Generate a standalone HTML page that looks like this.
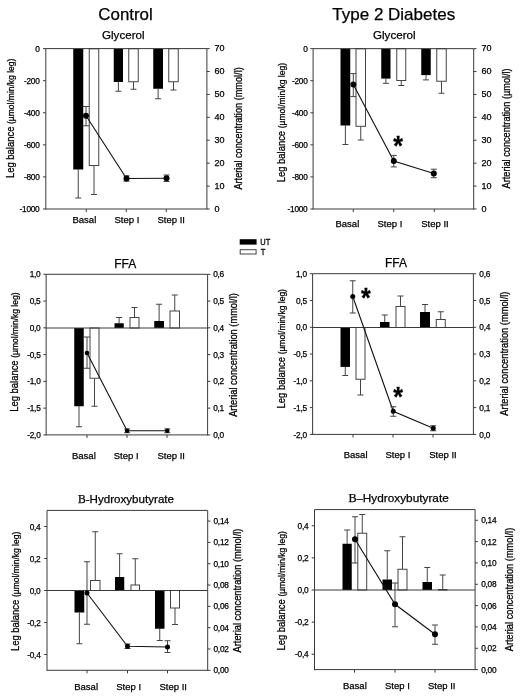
<!DOCTYPE html>
<html><head><meta charset="utf-8"><title>Leg balance figure</title>
<style>html,body{margin:0;padding:0;background:#fff;}svg{display:block;}text{fill:#000;stroke:#000;stroke-width:0.25px;}</style>
</head><body>
<svg width="520" height="696" viewBox="0 0 520 696">
<rect width="520" height="696" fill="#fff"/>
<line x1="78.25" y1="169.50" x2="78.25" y2="198.00" stroke="#444" stroke-width="1"/>
<line x1="75.25" y1="198.00" x2="81.25" y2="198.00" stroke="#444" stroke-width="1"/>
<rect x="73.25" y="48.75" width="10.00" height="120.75" fill="#000"/>
<line x1="94.00" y1="165.50" x2="94.00" y2="194.50" stroke="#444" stroke-width="1"/>
<line x1="91.00" y1="194.50" x2="97.00" y2="194.50" stroke="#444" stroke-width="1"/>
<rect x="89.25" y="48.75" width="9.50" height="116.75" fill="#fff" stroke="#444" stroke-width="1"/>
<line x1="118.38" y1="82.00" x2="118.38" y2="91.25" stroke="#444" stroke-width="1"/>
<line x1="115.38" y1="91.25" x2="121.38" y2="91.25" stroke="#444" stroke-width="1"/>
<rect x="113.75" y="48.75" width="9.25" height="33.25" fill="#000"/>
<line x1="133.50" y1="81.75" x2="133.50" y2="89.25" stroke="#444" stroke-width="1"/>
<line x1="130.50" y1="89.25" x2="136.50" y2="89.25" stroke="#444" stroke-width="1"/>
<rect x="128.75" y="48.75" width="9.50" height="33.00" fill="#fff" stroke="#444" stroke-width="1"/>
<line x1="158.12" y1="88.75" x2="158.12" y2="98.75" stroke="#444" stroke-width="1"/>
<line x1="155.12" y1="98.75" x2="161.12" y2="98.75" stroke="#444" stroke-width="1"/>
<rect x="153.25" y="48.75" width="9.75" height="40.00" fill="#000"/>
<line x1="173.50" y1="81.75" x2="173.50" y2="90.00" stroke="#444" stroke-width="1"/>
<line x1="170.50" y1="90.00" x2="176.50" y2="90.00" stroke="#444" stroke-width="1"/>
<rect x="168.75" y="48.75" width="9.50" height="33.00" fill="#fff" stroke="#444" stroke-width="1"/>
<polyline points="86.00,115.80 126.50,178.50 166.50,178.20" fill="none" stroke="#111" stroke-width="1.1"/>
<line x1="86.00" y1="106.50" x2="86.00" y2="125.80" stroke="#444" stroke-width="1"/>
<line x1="83.00" y1="106.50" x2="89.00" y2="106.50" stroke="#444" stroke-width="1"/>
<line x1="83.00" y1="125.80" x2="89.00" y2="125.80" stroke="#444" stroke-width="1"/>
<circle cx="86.00" cy="115.80" r="3" fill="#000"/>
<line x1="126.50" y1="175.80" x2="126.50" y2="181.20" stroke="#444" stroke-width="1"/>
<line x1="123.50" y1="175.80" x2="129.50" y2="175.80" stroke="#444" stroke-width="1"/>
<line x1="123.50" y1="181.20" x2="129.50" y2="181.20" stroke="#444" stroke-width="1"/>
<circle cx="126.50" cy="178.50" r="3" fill="#000"/>
<line x1="166.50" y1="175.00" x2="166.50" y2="181.50" stroke="#444" stroke-width="1"/>
<line x1="163.50" y1="175.00" x2="169.50" y2="175.00" stroke="#444" stroke-width="1"/>
<line x1="163.50" y1="181.50" x2="169.50" y2="181.50" stroke="#444" stroke-width="1"/>
<circle cx="166.50" cy="178.20" r="3" fill="#000"/>
<line x1="45.80" y1="48.60" x2="45.80" y2="209.50" stroke="#3a3a3a" stroke-width="1"/>
<line x1="206.90" y1="48.60" x2="206.90" y2="209.50" stroke="#3a3a3a" stroke-width="1"/>
<line x1="45.80" y1="209.00" x2="206.90" y2="209.00" stroke="#3a3a3a" stroke-width="1"/>
<line x1="45.80" y1="48.60" x2="206.90" y2="48.60" stroke="#3a3a3a" stroke-width="1"/>
<line x1="43.00" y1="48.60" x2="45.80" y2="48.60" stroke="#3a3a3a" stroke-width="1"/>
<text x="39.50" y="51.70" font-size="8.3" text-anchor="end" font-family='"Liberation Sans", Arial, sans-serif' letter-spacing="-0.25">0</text>
<line x1="43.00" y1="80.68" x2="45.80" y2="80.68" stroke="#3a3a3a" stroke-width="1"/>
<text x="39.50" y="83.78" font-size="8.3" text-anchor="end" font-family='"Liberation Sans", Arial, sans-serif' letter-spacing="-0.25">-200</text>
<line x1="43.00" y1="112.76" x2="45.80" y2="112.76" stroke="#3a3a3a" stroke-width="1"/>
<text x="39.50" y="115.86" font-size="8.3" text-anchor="end" font-family='"Liberation Sans", Arial, sans-serif' letter-spacing="-0.25">-400</text>
<line x1="43.00" y1="144.84" x2="45.80" y2="144.84" stroke="#3a3a3a" stroke-width="1"/>
<text x="39.50" y="147.94" font-size="8.3" text-anchor="end" font-family='"Liberation Sans", Arial, sans-serif' letter-spacing="-0.25">-600</text>
<line x1="43.00" y1="176.92" x2="45.80" y2="176.92" stroke="#3a3a3a" stroke-width="1"/>
<text x="39.50" y="180.02" font-size="8.3" text-anchor="end" font-family='"Liberation Sans", Arial, sans-serif' letter-spacing="-0.25">-800</text>
<line x1="43.00" y1="209.00" x2="45.80" y2="209.00" stroke="#3a3a3a" stroke-width="1"/>
<text x="39.50" y="212.10" font-size="8.3" text-anchor="end" font-family='"Liberation Sans", Arial, sans-serif' letter-spacing="-0.25">-1000</text>
<line x1="206.90" y1="209.00" x2="209.70" y2="209.00" stroke="#3a3a3a" stroke-width="1"/>
<text x="214.50" y="211.50" font-size="9.0" text-anchor="start" font-family='"Liberation Sans", Arial, sans-serif' letter-spacing="0">0</text>
<line x1="206.90" y1="186.09" x2="209.70" y2="186.09" stroke="#3a3a3a" stroke-width="1"/>
<text x="214.50" y="188.59" font-size="9.0" text-anchor="start" font-family='"Liberation Sans", Arial, sans-serif' letter-spacing="0">10</text>
<line x1="206.90" y1="163.17" x2="209.70" y2="163.17" stroke="#3a3a3a" stroke-width="1"/>
<text x="214.50" y="165.67" font-size="9.0" text-anchor="start" font-family='"Liberation Sans", Arial, sans-serif' letter-spacing="0">20</text>
<line x1="206.90" y1="140.26" x2="209.70" y2="140.26" stroke="#3a3a3a" stroke-width="1"/>
<text x="214.50" y="142.76" font-size="9.0" text-anchor="start" font-family='"Liberation Sans", Arial, sans-serif' letter-spacing="0">30</text>
<line x1="206.90" y1="117.34" x2="209.70" y2="117.34" stroke="#3a3a3a" stroke-width="1"/>
<text x="214.50" y="119.84" font-size="9.0" text-anchor="start" font-family='"Liberation Sans", Arial, sans-serif' letter-spacing="0">40</text>
<line x1="206.90" y1="94.43" x2="209.70" y2="94.43" stroke="#3a3a3a" stroke-width="1"/>
<text x="214.50" y="96.93" font-size="9.0" text-anchor="start" font-family='"Liberation Sans", Arial, sans-serif' letter-spacing="0">50</text>
<line x1="206.90" y1="71.51" x2="209.70" y2="71.51" stroke="#3a3a3a" stroke-width="1"/>
<text x="214.50" y="74.01" font-size="9.0" text-anchor="start" font-family='"Liberation Sans", Arial, sans-serif' letter-spacing="0">60</text>
<line x1="206.90" y1="48.60" x2="209.70" y2="48.60" stroke="#3a3a3a" stroke-width="1"/>
<text x="214.50" y="51.10" font-size="9.0" text-anchor="start" font-family='"Liberation Sans", Arial, sans-serif' letter-spacing="0">70</text>
<line x1="86.25" y1="209.00" x2="86.25" y2="212.00" stroke="#3a3a3a" stroke-width="1"/>
<line x1="126.25" y1="209.00" x2="126.25" y2="212.00" stroke="#3a3a3a" stroke-width="1"/>
<line x1="166.25" y1="209.00" x2="166.25" y2="212.00" stroke="#3a3a3a" stroke-width="1"/>
<text x="72.50" y="223.35" font-size="9.5" text-anchor="start" font-family='"Liberation Sans", Arial, sans-serif'>Basal</text>
<text x="114.50" y="223.35" font-size="9.5" text-anchor="start" font-family='"Liberation Sans", Arial, sans-serif'>Step I</text>
<text x="157.50" y="223.35" font-size="9.5" text-anchor="start" font-family='"Liberation Sans", Arial, sans-serif'>Step II</text>
<text x="102.00" y="38.80" font-size="11.6" text-anchor="start" font-family='"Liberation Sans", Arial, sans-serif'>Glycerol</text>
<text x="0.00" y="0.00" font-size="9.45" text-anchor="start" font-family='"Liberation Sans", Arial, sans-serif' transform="translate(13.80 178.00) rotate(-90) scale(1 1.12)">Leg balance <tspan font-size="8.5">(µmol/min/kg leg)</tspan></text>
<text x="0.00" y="0.00" font-size="9.18" text-anchor="start" font-family='"Liberation Sans", Arial, sans-serif' transform="translate(242.20 189.55) rotate(-90) scale(1 1.12)">Arterial concentration (mmol/l)</text>
<line x1="345.38" y1="125.50" x2="345.38" y2="144.50" stroke="#444" stroke-width="1"/>
<line x1="342.38" y1="144.50" x2="348.38" y2="144.50" stroke="#444" stroke-width="1"/>
<rect x="340.50" y="48.75" width="9.75" height="76.75" fill="#000"/>
<line x1="360.75" y1="126.30" x2="360.75" y2="140.00" stroke="#444" stroke-width="1"/>
<line x1="357.75" y1="140.00" x2="363.75" y2="140.00" stroke="#444" stroke-width="1"/>
<rect x="356.00" y="48.75" width="9.50" height="77.55" fill="#fff" stroke="#444" stroke-width="1"/>
<line x1="385.88" y1="78.60" x2="385.88" y2="83.30" stroke="#444" stroke-width="1"/>
<line x1="382.88" y1="83.30" x2="388.88" y2="83.30" stroke="#444" stroke-width="1"/>
<rect x="381.25" y="48.75" width="9.25" height="29.85" fill="#000"/>
<line x1="401.25" y1="80.50" x2="401.25" y2="85.50" stroke="#444" stroke-width="1"/>
<line x1="398.25" y1="85.50" x2="404.25" y2="85.50" stroke="#444" stroke-width="1"/>
<rect x="396.75" y="48.75" width="9.00" height="31.75" fill="#fff" stroke="#444" stroke-width="1"/>
<line x1="426.00" y1="75.10" x2="426.00" y2="79.90" stroke="#444" stroke-width="1"/>
<line x1="423.00" y1="79.90" x2="429.00" y2="79.90" stroke="#444" stroke-width="1"/>
<rect x="421.25" y="48.75" width="9.50" height="26.35" fill="#000"/>
<line x1="441.50" y1="81.25" x2="441.50" y2="93.25" stroke="#444" stroke-width="1"/>
<line x1="438.50" y1="93.25" x2="444.50" y2="93.25" stroke="#444" stroke-width="1"/>
<rect x="436.75" y="48.75" width="9.50" height="32.50" fill="#fff" stroke="#444" stroke-width="1"/>
<polyline points="353.30,84.60 393.80,161.10 433.80,173.50" fill="none" stroke="#111" stroke-width="1.1"/>
<line x1="353.30" y1="73.60" x2="353.30" y2="96.60" stroke="#444" stroke-width="1"/>
<line x1="350.30" y1="73.60" x2="356.30" y2="73.60" stroke="#444" stroke-width="1"/>
<line x1="350.30" y1="96.60" x2="356.30" y2="96.60" stroke="#444" stroke-width="1"/>
<circle cx="353.30" cy="84.60" r="3" fill="#000"/>
<line x1="393.80" y1="155.40" x2="393.80" y2="166.90" stroke="#444" stroke-width="1"/>
<line x1="390.80" y1="155.40" x2="396.80" y2="155.40" stroke="#444" stroke-width="1"/>
<line x1="390.80" y1="166.90" x2="396.80" y2="166.90" stroke="#444" stroke-width="1"/>
<circle cx="393.80" cy="161.10" r="3" fill="#000"/>
<line x1="433.80" y1="169.20" x2="433.80" y2="177.70" stroke="#444" stroke-width="1"/>
<line x1="430.80" y1="169.20" x2="436.80" y2="169.20" stroke="#444" stroke-width="1"/>
<line x1="430.80" y1="177.70" x2="436.80" y2="177.70" stroke="#444" stroke-width="1"/>
<circle cx="433.80" cy="173.50" r="3" fill="#000"/>
<line x1="313.10" y1="48.65" x2="313.10" y2="209.50" stroke="#3a3a3a" stroke-width="1"/>
<line x1="473.70" y1="48.65" x2="473.70" y2="209.50" stroke="#3a3a3a" stroke-width="1"/>
<line x1="313.10" y1="209.00" x2="473.70" y2="209.00" stroke="#3a3a3a" stroke-width="1"/>
<line x1="313.10" y1="48.65" x2="473.70" y2="48.65" stroke="#3a3a3a" stroke-width="1"/>
<line x1="310.30" y1="48.65" x2="313.10" y2="48.65" stroke="#3a3a3a" stroke-width="1"/>
<text x="307.50" y="51.75" font-size="8.3" text-anchor="end" font-family='"Liberation Sans", Arial, sans-serif' letter-spacing="-0.25">0</text>
<line x1="310.30" y1="80.72" x2="313.10" y2="80.72" stroke="#3a3a3a" stroke-width="1"/>
<text x="307.50" y="83.82" font-size="8.3" text-anchor="end" font-family='"Liberation Sans", Arial, sans-serif' letter-spacing="-0.25">-200</text>
<line x1="310.30" y1="112.79" x2="313.10" y2="112.79" stroke="#3a3a3a" stroke-width="1"/>
<text x="307.50" y="115.89" font-size="8.3" text-anchor="end" font-family='"Liberation Sans", Arial, sans-serif' letter-spacing="-0.25">-400</text>
<line x1="310.30" y1="144.86" x2="313.10" y2="144.86" stroke="#3a3a3a" stroke-width="1"/>
<text x="307.50" y="147.96" font-size="8.3" text-anchor="end" font-family='"Liberation Sans", Arial, sans-serif' letter-spacing="-0.25">-600</text>
<line x1="310.30" y1="176.93" x2="313.10" y2="176.93" stroke="#3a3a3a" stroke-width="1"/>
<text x="307.50" y="180.03" font-size="8.3" text-anchor="end" font-family='"Liberation Sans", Arial, sans-serif' letter-spacing="-0.25">-800</text>
<line x1="310.30" y1="209.00" x2="313.10" y2="209.00" stroke="#3a3a3a" stroke-width="1"/>
<text x="307.50" y="212.10" font-size="8.3" text-anchor="end" font-family='"Liberation Sans", Arial, sans-serif' letter-spacing="-0.25">-1000</text>
<line x1="473.70" y1="209.00" x2="476.50" y2="209.00" stroke="#3a3a3a" stroke-width="1"/>
<text x="481.50" y="211.50" font-size="9.0" text-anchor="start" font-family='"Liberation Sans", Arial, sans-serif' letter-spacing="0">0</text>
<line x1="473.70" y1="186.09" x2="476.50" y2="186.09" stroke="#3a3a3a" stroke-width="1"/>
<text x="481.50" y="188.59" font-size="9.0" text-anchor="start" font-family='"Liberation Sans", Arial, sans-serif' letter-spacing="0">10</text>
<line x1="473.70" y1="163.19" x2="476.50" y2="163.19" stroke="#3a3a3a" stroke-width="1"/>
<text x="481.50" y="165.69" font-size="9.0" text-anchor="start" font-family='"Liberation Sans", Arial, sans-serif' letter-spacing="0">20</text>
<line x1="473.70" y1="140.28" x2="476.50" y2="140.28" stroke="#3a3a3a" stroke-width="1"/>
<text x="481.50" y="142.78" font-size="9.0" text-anchor="start" font-family='"Liberation Sans", Arial, sans-serif' letter-spacing="0">30</text>
<line x1="473.70" y1="117.37" x2="476.50" y2="117.37" stroke="#3a3a3a" stroke-width="1"/>
<text x="481.50" y="119.87" font-size="9.0" text-anchor="start" font-family='"Liberation Sans", Arial, sans-serif' letter-spacing="0">40</text>
<line x1="473.70" y1="94.46" x2="476.50" y2="94.46" stroke="#3a3a3a" stroke-width="1"/>
<text x="481.50" y="96.96" font-size="9.0" text-anchor="start" font-family='"Liberation Sans", Arial, sans-serif' letter-spacing="0">50</text>
<line x1="473.70" y1="71.56" x2="476.50" y2="71.56" stroke="#3a3a3a" stroke-width="1"/>
<text x="481.50" y="74.06" font-size="9.0" text-anchor="start" font-family='"Liberation Sans", Arial, sans-serif' letter-spacing="0">60</text>
<line x1="473.70" y1="48.65" x2="476.50" y2="48.65" stroke="#3a3a3a" stroke-width="1"/>
<text x="481.50" y="51.15" font-size="9.0" text-anchor="start" font-family='"Liberation Sans", Arial, sans-serif' letter-spacing="0">70</text>
<line x1="353.25" y1="209.00" x2="353.25" y2="212.00" stroke="#3a3a3a" stroke-width="1"/>
<line x1="393.75" y1="209.00" x2="393.75" y2="212.00" stroke="#3a3a3a" stroke-width="1"/>
<line x1="434.25" y1="209.00" x2="434.25" y2="212.00" stroke="#3a3a3a" stroke-width="1"/>
<text x="335.50" y="227.10" font-size="9.5" text-anchor="start" font-family='"Liberation Sans", Arial, sans-serif'>Basal</text>
<text x="377.50" y="227.10" font-size="9.5" text-anchor="start" font-family='"Liberation Sans", Arial, sans-serif'>Step I</text>
<text x="421.25" y="227.10" font-size="9.5" text-anchor="start" font-family='"Liberation Sans", Arial, sans-serif'>Step II</text>
<text x="373.00" y="39.20" font-size="11.6" text-anchor="start" font-family='"Liberation Sans", Arial, sans-serif'>Glycerol</text>
<text x="0.00" y="0.00" font-size="9.45" text-anchor="start" font-family='"Liberation Sans", Arial, sans-serif' transform="translate(284.90 182.30) rotate(-90) scale(1 1.12)">Leg balance <tspan font-size="8.5">(µmol/min/kg leg)</tspan></text>
<text x="0.00" y="0.00" font-size="9.19" text-anchor="start" font-family='"Liberation Sans", Arial, sans-serif' transform="translate(510.20 188.45) rotate(-90) scale(1 1.12)">Arterial concentration (µmol/l)</text>
<text transform="translate(398.00 140.50) scale(1 1.12)" x="0" y="13.08" font-size="25" text-anchor="middle" font-weight="bold" font-family='"Liberation Sans", Arial, sans-serif'>*</text>
<line x1="79.00" y1="406.25" x2="79.00" y2="426.75" stroke="#444" stroke-width="1"/>
<line x1="76.00" y1="426.75" x2="82.00" y2="426.75" stroke="#444" stroke-width="1"/>
<rect x="74.25" y="328.00" width="9.50" height="78.25" fill="#000"/>
<line x1="94.50" y1="378.25" x2="94.50" y2="406.25" stroke="#444" stroke-width="1"/>
<line x1="91.50" y1="406.25" x2="97.50" y2="406.25" stroke="#444" stroke-width="1"/>
<rect x="90.00" y="328.00" width="9.00" height="50.25" fill="#fff" stroke="#444" stroke-width="1"/>
<line x1="119.12" y1="323.25" x2="119.12" y2="317.50" stroke="#444" stroke-width="1"/>
<line x1="116.12" y1="317.50" x2="122.12" y2="317.50" stroke="#444" stroke-width="1"/>
<rect x="114.50" y="323.25" width="9.25" height="4.75" fill="#000"/>
<line x1="134.50" y1="317.50" x2="134.50" y2="307.50" stroke="#444" stroke-width="1"/>
<line x1="131.50" y1="307.50" x2="137.50" y2="307.50" stroke="#444" stroke-width="1"/>
<rect x="130.00" y="317.50" width="9.00" height="10.50" fill="#fff" stroke="#444" stroke-width="1"/>
<line x1="159.12" y1="321.00" x2="159.12" y2="304.25" stroke="#444" stroke-width="1"/>
<line x1="156.12" y1="304.25" x2="162.12" y2="304.25" stroke="#444" stroke-width="1"/>
<rect x="154.25" y="321.00" width="9.75" height="7.00" fill="#000"/>
<line x1="174.75" y1="311.00" x2="174.75" y2="295.00" stroke="#444" stroke-width="1"/>
<line x1="171.75" y1="295.00" x2="177.75" y2="295.00" stroke="#444" stroke-width="1"/>
<rect x="170.00" y="311.00" width="9.50" height="17.00" fill="#fff" stroke="#444" stroke-width="1"/>
<line x1="46.15" y1="328.00" x2="207.60" y2="328.00" stroke="#3a3a3a" stroke-width="1"/>
<polyline points="87.00,353.00 127.10,430.80 167.25,430.80" fill="none" stroke="#111" stroke-width="1.1"/>
<line x1="87.00" y1="337.00" x2="87.00" y2="368.25" stroke="#444" stroke-width="1"/>
<line x1="84.00" y1="337.00" x2="90.00" y2="337.00" stroke="#444" stroke-width="1"/>
<line x1="84.00" y1="368.25" x2="90.00" y2="368.25" stroke="#444" stroke-width="1"/>
<circle cx="87.00" cy="353.00" r="2.3" fill="#000"/>
<line x1="127.10" y1="428.90" x2="127.10" y2="432.70" stroke="#444" stroke-width="1"/>
<line x1="124.10" y1="428.90" x2="130.10" y2="428.90" stroke="#444" stroke-width="1"/>
<line x1="124.10" y1="432.70" x2="130.10" y2="432.70" stroke="#444" stroke-width="1"/>
<circle cx="127.10" cy="430.80" r="2.3" fill="#000"/>
<line x1="167.25" y1="428.90" x2="167.25" y2="432.70" stroke="#444" stroke-width="1"/>
<line x1="164.25" y1="428.90" x2="170.25" y2="428.90" stroke="#444" stroke-width="1"/>
<line x1="164.25" y1="432.70" x2="170.25" y2="432.70" stroke="#444" stroke-width="1"/>
<circle cx="167.25" cy="430.80" r="2.3" fill="#000"/>
<line x1="46.15" y1="274.30" x2="46.15" y2="435.40" stroke="#3a3a3a" stroke-width="1"/>
<line x1="207.60" y1="274.30" x2="207.60" y2="435.40" stroke="#3a3a3a" stroke-width="1"/>
<line x1="46.15" y1="434.90" x2="207.60" y2="434.90" stroke="#3a3a3a" stroke-width="1"/>
<line x1="46.15" y1="274.30" x2="207.60" y2="274.30" stroke="#3a3a3a" stroke-width="1"/>
<line x1="43.35" y1="274.30" x2="46.15" y2="274.30" stroke="#3a3a3a" stroke-width="1"/>
<text x="40.50" y="277.40" font-size="8.3" text-anchor="end" font-family='"Liberation Sans", Arial, sans-serif' letter-spacing="-0.25">1,0</text>
<line x1="43.35" y1="301.07" x2="46.15" y2="301.07" stroke="#3a3a3a" stroke-width="1"/>
<text x="40.50" y="304.17" font-size="8.3" text-anchor="end" font-family='"Liberation Sans", Arial, sans-serif' letter-spacing="-0.25">0,5</text>
<line x1="43.35" y1="327.83" x2="46.15" y2="327.83" stroke="#3a3a3a" stroke-width="1"/>
<text x="40.50" y="330.93" font-size="8.3" text-anchor="end" font-family='"Liberation Sans", Arial, sans-serif' letter-spacing="-0.25">0,0</text>
<line x1="43.35" y1="354.60" x2="46.15" y2="354.60" stroke="#3a3a3a" stroke-width="1"/>
<text x="40.50" y="357.70" font-size="8.3" text-anchor="end" font-family='"Liberation Sans", Arial, sans-serif' letter-spacing="-0.25">-0,5</text>
<line x1="43.35" y1="381.37" x2="46.15" y2="381.37" stroke="#3a3a3a" stroke-width="1"/>
<text x="40.50" y="384.47" font-size="8.3" text-anchor="end" font-family='"Liberation Sans", Arial, sans-serif' letter-spacing="-0.25">-1,0</text>
<line x1="43.35" y1="408.13" x2="46.15" y2="408.13" stroke="#3a3a3a" stroke-width="1"/>
<text x="40.50" y="411.23" font-size="8.3" text-anchor="end" font-family='"Liberation Sans", Arial, sans-serif' letter-spacing="-0.25">-1,5</text>
<line x1="43.35" y1="434.90" x2="46.15" y2="434.90" stroke="#3a3a3a" stroke-width="1"/>
<text x="40.50" y="438.00" font-size="8.3" text-anchor="end" font-family='"Liberation Sans", Arial, sans-serif' letter-spacing="-0.25">-2,0</text>
<line x1="207.60" y1="434.90" x2="210.40" y2="434.90" stroke="#3a3a3a" stroke-width="1"/>
<text x="213.20" y="438.00" font-size="8.3" text-anchor="start" font-family='"Liberation Sans", Arial, sans-serif' letter-spacing="-0.25">0,0</text>
<line x1="207.60" y1="408.13" x2="210.40" y2="408.13" stroke="#3a3a3a" stroke-width="1"/>
<text x="213.20" y="411.23" font-size="8.3" text-anchor="start" font-family='"Liberation Sans", Arial, sans-serif' letter-spacing="-0.25">0,1</text>
<line x1="207.60" y1="381.37" x2="210.40" y2="381.37" stroke="#3a3a3a" stroke-width="1"/>
<text x="213.20" y="384.47" font-size="8.3" text-anchor="start" font-family='"Liberation Sans", Arial, sans-serif' letter-spacing="-0.25">0,2</text>
<line x1="207.60" y1="354.60" x2="210.40" y2="354.60" stroke="#3a3a3a" stroke-width="1"/>
<text x="213.20" y="357.70" font-size="8.3" text-anchor="start" font-family='"Liberation Sans", Arial, sans-serif' letter-spacing="-0.25">0,3</text>
<line x1="207.60" y1="327.83" x2="210.40" y2="327.83" stroke="#3a3a3a" stroke-width="1"/>
<text x="213.20" y="330.93" font-size="8.3" text-anchor="start" font-family='"Liberation Sans", Arial, sans-serif' letter-spacing="-0.25">0,4</text>
<line x1="207.60" y1="301.07" x2="210.40" y2="301.07" stroke="#3a3a3a" stroke-width="1"/>
<text x="213.20" y="304.17" font-size="8.3" text-anchor="start" font-family='"Liberation Sans", Arial, sans-serif' letter-spacing="-0.25">0,5</text>
<line x1="207.60" y1="274.30" x2="210.40" y2="274.30" stroke="#3a3a3a" stroke-width="1"/>
<text x="213.20" y="277.40" font-size="8.3" text-anchor="start" font-family='"Liberation Sans", Arial, sans-serif' letter-spacing="-0.25">0,6</text>
<line x1="87.00" y1="434.90" x2="87.00" y2="437.90" stroke="#3a3a3a" stroke-width="1"/>
<line x1="127.00" y1="434.90" x2="127.00" y2="437.90" stroke="#3a3a3a" stroke-width="1"/>
<line x1="167.00" y1="434.90" x2="167.00" y2="437.90" stroke="#3a3a3a" stroke-width="1"/>
<text x="72.00" y="458.85" font-size="9.5" text-anchor="start" font-family='"Liberation Sans", Arial, sans-serif'>Basal</text>
<text x="113.75" y="458.85" font-size="9.5" text-anchor="start" font-family='"Liberation Sans", Arial, sans-serif'>Step I</text>
<text x="157.50" y="458.85" font-size="9.5" text-anchor="start" font-family='"Liberation Sans", Arial, sans-serif'>Step II</text>
<text x="114.20" y="267.60" font-size="12.0" text-anchor="start" font-family='"Liberation Sans", Arial, sans-serif'>FFA</text>
<text x="0.00" y="0.00" font-size="9.45" text-anchor="start" font-family='"Liberation Sans", Arial, sans-serif' transform="translate(18.10 411.80) rotate(-90) scale(1 1.12)">Leg balance <tspan font-size="8.5">(µmol/min/kg leg)</tspan></text>
<text x="0.00" y="0.00" font-size="9.28" text-anchor="start" font-family='"Liberation Sans", Arial, sans-serif' transform="translate(236.60 416.85) rotate(-90) scale(1 1.12)">Arterial concentration (mmol/l)</text>
<line x1="345.25" y1="366.90" x2="345.25" y2="375.50" stroke="#444" stroke-width="1"/>
<line x1="342.25" y1="375.50" x2="348.25" y2="375.50" stroke="#444" stroke-width="1"/>
<rect x="340.50" y="327.50" width="9.50" height="39.40" fill="#000"/>
<line x1="360.50" y1="379.25" x2="360.50" y2="395.00" stroke="#444" stroke-width="1"/>
<line x1="357.50" y1="395.00" x2="363.50" y2="395.00" stroke="#444" stroke-width="1"/>
<rect x="356.00" y="327.50" width="9.00" height="51.75" fill="#fff" stroke="#444" stroke-width="1"/>
<line x1="384.75" y1="322.00" x2="384.75" y2="315.00" stroke="#444" stroke-width="1"/>
<line x1="381.75" y1="315.00" x2="387.75" y2="315.00" stroke="#444" stroke-width="1"/>
<rect x="380.00" y="322.00" width="9.50" height="5.50" fill="#000"/>
<line x1="400.50" y1="306.50" x2="400.50" y2="296.00" stroke="#444" stroke-width="1"/>
<line x1="397.50" y1="296.00" x2="403.50" y2="296.00" stroke="#444" stroke-width="1"/>
<rect x="396.00" y="306.50" width="9.00" height="21.00" fill="#fff" stroke="#444" stroke-width="1"/>
<line x1="425.00" y1="312.00" x2="425.00" y2="304.50" stroke="#444" stroke-width="1"/>
<line x1="422.00" y1="304.50" x2="428.00" y2="304.50" stroke="#444" stroke-width="1"/>
<rect x="420.00" y="312.00" width="10.00" height="15.50" fill="#000"/>
<line x1="440.75" y1="319.50" x2="440.75" y2="311.75" stroke="#444" stroke-width="1"/>
<line x1="437.75" y1="311.75" x2="443.75" y2="311.75" stroke="#444" stroke-width="1"/>
<rect x="436.25" y="319.50" width="9.00" height="8.00" fill="#fff" stroke="#444" stroke-width="1"/>
<line x1="312.60" y1="327.50" x2="473.40" y2="327.50" stroke="#3a3a3a" stroke-width="1"/>
<polyline points="352.75,296.50 393.25,411.25 433.25,428.25" fill="none" stroke="#111" stroke-width="1.1"/>
<line x1="352.75" y1="280.75" x2="352.75" y2="313.00" stroke="#444" stroke-width="1"/>
<line x1="349.75" y1="280.75" x2="355.75" y2="280.75" stroke="#444" stroke-width="1"/>
<line x1="349.75" y1="313.00" x2="355.75" y2="313.00" stroke="#444" stroke-width="1"/>
<circle cx="352.75" cy="296.50" r="2.5" fill="#000"/>
<line x1="393.25" y1="406.75" x2="393.25" y2="416.25" stroke="#444" stroke-width="1"/>
<line x1="390.25" y1="406.75" x2="396.25" y2="406.75" stroke="#444" stroke-width="1"/>
<line x1="390.25" y1="416.25" x2="396.25" y2="416.25" stroke="#444" stroke-width="1"/>
<circle cx="393.25" cy="411.25" r="2.5" fill="#000"/>
<line x1="433.25" y1="425.75" x2="433.25" y2="430.75" stroke="#444" stroke-width="1"/>
<line x1="430.25" y1="425.75" x2="436.25" y2="425.75" stroke="#444" stroke-width="1"/>
<line x1="430.25" y1="430.75" x2="436.25" y2="430.75" stroke="#444" stroke-width="1"/>
<circle cx="433.25" cy="428.25" r="2.5" fill="#000"/>
<line x1="312.60" y1="273.70" x2="312.60" y2="434.90" stroke="#3a3a3a" stroke-width="1"/>
<line x1="473.40" y1="273.70" x2="473.40" y2="434.90" stroke="#3a3a3a" stroke-width="1"/>
<line x1="312.60" y1="434.40" x2="473.40" y2="434.40" stroke="#3a3a3a" stroke-width="1"/>
<line x1="312.60" y1="273.70" x2="473.40" y2="273.70" stroke="#3a3a3a" stroke-width="1"/>
<line x1="309.80" y1="273.70" x2="312.60" y2="273.70" stroke="#3a3a3a" stroke-width="1"/>
<text x="306.80" y="276.80" font-size="8.3" text-anchor="end" font-family='"Liberation Sans", Arial, sans-serif' letter-spacing="-0.25">1,0</text>
<line x1="309.80" y1="300.48" x2="312.60" y2="300.48" stroke="#3a3a3a" stroke-width="1"/>
<text x="306.80" y="303.58" font-size="8.3" text-anchor="end" font-family='"Liberation Sans", Arial, sans-serif' letter-spacing="-0.25">0,5</text>
<line x1="309.80" y1="327.27" x2="312.60" y2="327.27" stroke="#3a3a3a" stroke-width="1"/>
<text x="306.80" y="330.37" font-size="8.3" text-anchor="end" font-family='"Liberation Sans", Arial, sans-serif' letter-spacing="-0.25">0,0</text>
<line x1="309.80" y1="354.05" x2="312.60" y2="354.05" stroke="#3a3a3a" stroke-width="1"/>
<text x="306.80" y="357.15" font-size="8.3" text-anchor="end" font-family='"Liberation Sans", Arial, sans-serif' letter-spacing="-0.25">-0,5</text>
<line x1="309.80" y1="380.83" x2="312.60" y2="380.83" stroke="#3a3a3a" stroke-width="1"/>
<text x="306.80" y="383.93" font-size="8.3" text-anchor="end" font-family='"Liberation Sans", Arial, sans-serif' letter-spacing="-0.25">-1,0</text>
<line x1="309.80" y1="407.62" x2="312.60" y2="407.62" stroke="#3a3a3a" stroke-width="1"/>
<text x="306.80" y="410.72" font-size="8.3" text-anchor="end" font-family='"Liberation Sans", Arial, sans-serif' letter-spacing="-0.25">-1,5</text>
<line x1="309.80" y1="434.40" x2="312.60" y2="434.40" stroke="#3a3a3a" stroke-width="1"/>
<text x="306.80" y="437.50" font-size="8.3" text-anchor="end" font-family='"Liberation Sans", Arial, sans-serif' letter-spacing="-0.25">-2,0</text>
<line x1="473.40" y1="434.40" x2="476.20" y2="434.40" stroke="#3a3a3a" stroke-width="1"/>
<text x="479.30" y="437.50" font-size="8.3" text-anchor="start" font-family='"Liberation Sans", Arial, sans-serif' letter-spacing="-0.25">0,0</text>
<line x1="473.40" y1="407.62" x2="476.20" y2="407.62" stroke="#3a3a3a" stroke-width="1"/>
<text x="479.30" y="410.72" font-size="8.3" text-anchor="start" font-family='"Liberation Sans", Arial, sans-serif' letter-spacing="-0.25">0,1</text>
<line x1="473.40" y1="380.83" x2="476.20" y2="380.83" stroke="#3a3a3a" stroke-width="1"/>
<text x="479.30" y="383.93" font-size="8.3" text-anchor="start" font-family='"Liberation Sans", Arial, sans-serif' letter-spacing="-0.25">0,2</text>
<line x1="473.40" y1="354.05" x2="476.20" y2="354.05" stroke="#3a3a3a" stroke-width="1"/>
<text x="479.30" y="357.15" font-size="8.3" text-anchor="start" font-family='"Liberation Sans", Arial, sans-serif' letter-spacing="-0.25">0,3</text>
<line x1="473.40" y1="327.27" x2="476.20" y2="327.27" stroke="#3a3a3a" stroke-width="1"/>
<text x="479.30" y="330.37" font-size="8.3" text-anchor="start" font-family='"Liberation Sans", Arial, sans-serif' letter-spacing="-0.25">0,4</text>
<line x1="473.40" y1="300.48" x2="476.20" y2="300.48" stroke="#3a3a3a" stroke-width="1"/>
<text x="479.30" y="303.58" font-size="8.3" text-anchor="start" font-family='"Liberation Sans", Arial, sans-serif' letter-spacing="-0.25">0,5</text>
<line x1="473.40" y1="273.70" x2="476.20" y2="273.70" stroke="#3a3a3a" stroke-width="1"/>
<text x="479.30" y="276.80" font-size="8.3" text-anchor="start" font-family='"Liberation Sans", Arial, sans-serif' letter-spacing="-0.25">0,6</text>
<line x1="353.00" y1="434.40" x2="353.00" y2="437.40" stroke="#3a3a3a" stroke-width="1"/>
<line x1="393.00" y1="434.40" x2="393.00" y2="437.40" stroke="#3a3a3a" stroke-width="1"/>
<line x1="433.00" y1="434.40" x2="433.00" y2="437.40" stroke="#3a3a3a" stroke-width="1"/>
<text x="343.75" y="457.85" font-size="9.5" text-anchor="start" font-family='"Liberation Sans", Arial, sans-serif'>Basal</text>
<text x="385.50" y="457.85" font-size="9.5" text-anchor="start" font-family='"Liberation Sans", Arial, sans-serif'>Step I</text>
<text x="429.25" y="457.85" font-size="9.5" text-anchor="start" font-family='"Liberation Sans", Arial, sans-serif'>Step II</text>
<text x="385.00" y="266.80" font-size="12.0" text-anchor="start" font-family='"Liberation Sans", Arial, sans-serif'>FFA</text>
<text x="0.00" y="0.00" font-size="9.45" text-anchor="start" font-family='"Liberation Sans", Arial, sans-serif' transform="translate(284.90 408.40) rotate(-90) scale(1 1.12)">Leg balance <tspan font-size="8.5">(µmol/min/kg leg)</tspan></text>
<text x="0.00" y="0.00" font-size="9.31" text-anchor="start" font-family='"Liberation Sans", Arial, sans-serif' transform="translate(507.60 415.65) rotate(-90) scale(1 1.12)">Arterial concentration (mmol/l)</text>
<text transform="translate(365.80 292.50) scale(1 1.12)" x="0" y="13.08" font-size="25" text-anchor="middle" font-weight="bold" font-family='"Liberation Sans", Arial, sans-serif'>*</text>
<text transform="translate(398.00 391.50) scale(1 1.12)" x="0" y="13.08" font-size="25" text-anchor="middle" font-weight="bold" font-family='"Liberation Sans", Arial, sans-serif'>*</text>
<line x1="79.38" y1="612.50" x2="79.38" y2="643.75" stroke="#444" stroke-width="1"/>
<line x1="76.38" y1="643.75" x2="82.38" y2="643.75" stroke="#444" stroke-width="1"/>
<rect x="74.50" y="590.50" width="9.75" height="22.00" fill="#000"/>
<line x1="95.25" y1="580.50" x2="95.25" y2="531.75" stroke="#444" stroke-width="1"/>
<line x1="92.25" y1="531.75" x2="98.25" y2="531.75" stroke="#444" stroke-width="1"/>
<rect x="90.50" y="580.50" width="9.50" height="10.00" fill="#fff" stroke="#444" stroke-width="1"/>
<line x1="119.62" y1="577.00" x2="119.62" y2="553.75" stroke="#444" stroke-width="1"/>
<line x1="116.62" y1="553.75" x2="122.62" y2="553.75" stroke="#444" stroke-width="1"/>
<rect x="115.00" y="577.00" width="9.25" height="13.50" fill="#000"/>
<line x1="135.25" y1="585.00" x2="135.25" y2="558.75" stroke="#444" stroke-width="1"/>
<line x1="132.25" y1="558.75" x2="138.25" y2="558.75" stroke="#444" stroke-width="1"/>
<rect x="131.00" y="585.00" width="8.50" height="5.50" fill="#fff" stroke="#444" stroke-width="1"/>
<line x1="159.75" y1="628.75" x2="159.75" y2="640.50" stroke="#444" stroke-width="1"/>
<line x1="156.75" y1="640.50" x2="162.75" y2="640.50" stroke="#444" stroke-width="1"/>
<rect x="155.00" y="590.50" width="9.50" height="38.25" fill="#000"/>
<line x1="175.00" y1="608.00" x2="175.00" y2="624.50" stroke="#444" stroke-width="1"/>
<line x1="172.00" y1="624.50" x2="178.00" y2="624.50" stroke="#444" stroke-width="1"/>
<rect x="170.50" y="590.50" width="9.00" height="17.50" fill="#fff" stroke="#444" stroke-width="1"/>
<line x1="47.00" y1="590.50" x2="207.70" y2="590.50" stroke="#3a3a3a" stroke-width="1"/>
<polyline points="87.00,593.00 127.50,646.25 167.50,647.00" fill="none" stroke="#111" stroke-width="1.1"/>
<line x1="87.00" y1="561.75" x2="87.00" y2="624.25" stroke="#444" stroke-width="1"/>
<line x1="84.00" y1="561.75" x2="90.00" y2="561.75" stroke="#444" stroke-width="1"/>
<line x1="84.00" y1="624.25" x2="90.00" y2="624.25" stroke="#444" stroke-width="1"/>
<circle cx="87.00" cy="593.00" r="2.5" fill="#000"/>
<line x1="127.50" y1="644.00" x2="127.50" y2="648.50" stroke="#444" stroke-width="1"/>
<line x1="124.50" y1="644.00" x2="130.50" y2="644.00" stroke="#444" stroke-width="1"/>
<line x1="124.50" y1="648.50" x2="130.50" y2="648.50" stroke="#444" stroke-width="1"/>
<circle cx="127.50" cy="646.25" r="2.5" fill="#000"/>
<line x1="167.50" y1="640.75" x2="167.50" y2="652.50" stroke="#444" stroke-width="1"/>
<line x1="164.50" y1="640.75" x2="170.50" y2="640.75" stroke="#444" stroke-width="1"/>
<line x1="164.50" y1="652.50" x2="170.50" y2="652.50" stroke="#444" stroke-width="1"/>
<circle cx="167.50" cy="647.00" r="2.5" fill="#000"/>
<line x1="47.00" y1="510.40" x2="47.00" y2="670.80" stroke="#3a3a3a" stroke-width="1"/>
<line x1="207.70" y1="510.40" x2="207.70" y2="670.80" stroke="#3a3a3a" stroke-width="1"/>
<line x1="47.00" y1="670.30" x2="207.70" y2="670.30" stroke="#3a3a3a" stroke-width="1"/>
<line x1="47.00" y1="510.40" x2="207.70" y2="510.40" stroke="#3a3a3a" stroke-width="1"/>
<line x1="44.20" y1="526.50" x2="47.00" y2="526.50" stroke="#3a3a3a" stroke-width="1"/>
<text x="40.50" y="529.60" font-size="8.3" text-anchor="end" font-family='"Liberation Sans", Arial, sans-serif' letter-spacing="-0.25">0,4</text>
<line x1="44.20" y1="558.50" x2="47.00" y2="558.50" stroke="#3a3a3a" stroke-width="1"/>
<text x="40.50" y="561.60" font-size="8.3" text-anchor="end" font-family='"Liberation Sans", Arial, sans-serif' letter-spacing="-0.25">0,2</text>
<line x1="44.20" y1="590.50" x2="47.00" y2="590.50" stroke="#3a3a3a" stroke-width="1"/>
<text x="40.50" y="593.60" font-size="8.3" text-anchor="end" font-family='"Liberation Sans", Arial, sans-serif' letter-spacing="-0.25">0,0</text>
<line x1="44.20" y1="622.50" x2="47.00" y2="622.50" stroke="#3a3a3a" stroke-width="1"/>
<text x="40.50" y="625.60" font-size="8.3" text-anchor="end" font-family='"Liberation Sans", Arial, sans-serif' letter-spacing="-0.25">-0,2</text>
<line x1="44.20" y1="654.50" x2="47.00" y2="654.50" stroke="#3a3a3a" stroke-width="1"/>
<text x="40.50" y="657.60" font-size="8.3" text-anchor="end" font-family='"Liberation Sans", Arial, sans-serif' letter-spacing="-0.25">-0,4</text>
<line x1="207.70" y1="670.30" x2="210.50" y2="670.30" stroke="#3a3a3a" stroke-width="1"/>
<text x="213.50" y="673.40" font-size="8.3" text-anchor="start" font-family='"Liberation Sans", Arial, sans-serif' letter-spacing="-0.25">0,00</text>
<line x1="207.70" y1="648.98" x2="210.50" y2="648.98" stroke="#3a3a3a" stroke-width="1"/>
<text x="213.50" y="652.08" font-size="8.3" text-anchor="start" font-family='"Liberation Sans", Arial, sans-serif' letter-spacing="-0.25">0,02</text>
<line x1="207.70" y1="627.66" x2="210.50" y2="627.66" stroke="#3a3a3a" stroke-width="1"/>
<text x="213.50" y="630.76" font-size="8.3" text-anchor="start" font-family='"Liberation Sans", Arial, sans-serif' letter-spacing="-0.25">0,04</text>
<line x1="207.70" y1="606.34" x2="210.50" y2="606.34" stroke="#3a3a3a" stroke-width="1"/>
<text x="213.50" y="609.44" font-size="8.3" text-anchor="start" font-family='"Liberation Sans", Arial, sans-serif' letter-spacing="-0.25">0,06</text>
<line x1="207.70" y1="585.02" x2="210.50" y2="585.02" stroke="#3a3a3a" stroke-width="1"/>
<text x="213.50" y="588.12" font-size="8.3" text-anchor="start" font-family='"Liberation Sans", Arial, sans-serif' letter-spacing="-0.25">0,08</text>
<line x1="207.70" y1="563.70" x2="210.50" y2="563.70" stroke="#3a3a3a" stroke-width="1"/>
<text x="213.50" y="566.80" font-size="8.3" text-anchor="start" font-family='"Liberation Sans", Arial, sans-serif' letter-spacing="-0.25">0,10</text>
<line x1="207.70" y1="542.38" x2="210.50" y2="542.38" stroke="#3a3a3a" stroke-width="1"/>
<text x="213.50" y="545.48" font-size="8.3" text-anchor="start" font-family='"Liberation Sans", Arial, sans-serif' letter-spacing="-0.25">0,12</text>
<line x1="207.70" y1="521.06" x2="210.50" y2="521.06" stroke="#3a3a3a" stroke-width="1"/>
<text x="213.50" y="524.16" font-size="8.3" text-anchor="start" font-family='"Liberation Sans", Arial, sans-serif' letter-spacing="-0.25">0,14</text>
<line x1="87.00" y1="670.30" x2="87.00" y2="673.30" stroke="#3a3a3a" stroke-width="1"/>
<line x1="127.50" y1="670.30" x2="127.50" y2="673.30" stroke="#3a3a3a" stroke-width="1"/>
<line x1="167.50" y1="670.30" x2="167.50" y2="673.30" stroke="#3a3a3a" stroke-width="1"/>
<text x="74.25" y="689.60" font-size="9.5" text-anchor="start" font-family='"Liberation Sans", Arial, sans-serif'>Basal</text>
<text x="116.25" y="689.60" font-size="9.5" text-anchor="start" font-family='"Liberation Sans", Arial, sans-serif'>Step I</text>
<text x="159.50" y="689.60" font-size="9.5" text-anchor="start" font-family='"Liberation Sans", Arial, sans-serif'>Step II</text>
<text x="78.00" y="503.00" font-size="11.6" text-anchor="start" font-family='"Liberation Sans", Arial, sans-serif'><tspan font-family='"Liberation Serif", serif'>B</tspan>-Hydroxybutyrate</text>
<text x="0.00" y="0.00" font-size="9.45" text-anchor="start" font-family='"Liberation Sans", Arial, sans-serif' transform="translate(19.20 651.10) rotate(-90) scale(1 1.12)">Leg balance <tspan font-size="8.5">(µmol/min/kg leg)</tspan></text>
<text x="0.00" y="0.00" font-size="9.3" text-anchor="start" font-family='"Liberation Sans", Arial, sans-serif' transform="translate(240.90 652.45) rotate(-90) scale(1 1.12)">Arterial concentration (mmol/l)</text>
<line x1="347.12" y1="543.75" x2="347.12" y2="530.00" stroke="#444" stroke-width="1"/>
<line x1="344.12" y1="530.00" x2="350.12" y2="530.00" stroke="#444" stroke-width="1"/>
<rect x="342.50" y="543.75" width="9.25" height="46.25" fill="#000"/>
<line x1="362.25" y1="533.25" x2="362.25" y2="514.50" stroke="#444" stroke-width="1"/>
<line x1="359.25" y1="514.50" x2="365.25" y2="514.50" stroke="#444" stroke-width="1"/>
<rect x="357.80" y="533.25" width="8.90" height="56.75" fill="#fff" stroke="#444" stroke-width="1"/>
<line x1="387.25" y1="579.50" x2="387.25" y2="550.75" stroke="#444" stroke-width="1"/>
<line x1="384.25" y1="550.75" x2="390.25" y2="550.75" stroke="#444" stroke-width="1"/>
<rect x="382.50" y="579.50" width="9.50" height="10.50" fill="#000"/>
<line x1="402.50" y1="569.25" x2="402.50" y2="536.75" stroke="#444" stroke-width="1"/>
<line x1="399.50" y1="536.75" x2="405.50" y2="536.75" stroke="#444" stroke-width="1"/>
<rect x="398.00" y="569.25" width="9.00" height="20.75" fill="#fff" stroke="#444" stroke-width="1"/>
<line x1="427.25" y1="582.00" x2="427.25" y2="567.50" stroke="#444" stroke-width="1"/>
<line x1="424.25" y1="567.50" x2="430.25" y2="567.50" stroke="#444" stroke-width="1"/>
<rect x="422.50" y="582.00" width="9.50" height="8.00" fill="#000"/>
<line x1="442.75" y1="589.50" x2="442.75" y2="575.00" stroke="#444" stroke-width="1"/>
<line x1="439.75" y1="575.00" x2="445.75" y2="575.00" stroke="#444" stroke-width="1"/>
<rect x="438.50" y="589.50" width="8.50" height="0.50" fill="#fff" stroke="#444" stroke-width="1"/>
<line x1="314.50" y1="590.00" x2="475.10" y2="590.00" stroke="#3a3a3a" stroke-width="1"/>
<polyline points="355.00,539.25 395.00,604.25 435.00,634.25" fill="none" stroke="#111" stroke-width="1.1"/>
<line x1="355.00" y1="516.75" x2="355.00" y2="563.00" stroke="#444" stroke-width="1"/>
<line x1="352.00" y1="516.75" x2="358.00" y2="516.75" stroke="#444" stroke-width="1"/>
<line x1="352.00" y1="563.00" x2="358.00" y2="563.00" stroke="#444" stroke-width="1"/>
<circle cx="355.00" cy="539.25" r="3" fill="#000"/>
<line x1="395.00" y1="583.00" x2="395.00" y2="626.75" stroke="#444" stroke-width="1"/>
<line x1="392.00" y1="583.00" x2="398.00" y2="583.00" stroke="#444" stroke-width="1"/>
<line x1="392.00" y1="626.75" x2="398.00" y2="626.75" stroke="#444" stroke-width="1"/>
<circle cx="395.00" cy="604.25" r="3" fill="#000"/>
<line x1="435.00" y1="625.00" x2="435.00" y2="644.25" stroke="#444" stroke-width="1"/>
<line x1="432.00" y1="625.00" x2="438.00" y2="625.00" stroke="#444" stroke-width="1"/>
<line x1="432.00" y1="644.25" x2="438.00" y2="644.25" stroke="#444" stroke-width="1"/>
<circle cx="435.00" cy="634.25" r="3" fill="#000"/>
<line x1="314.50" y1="509.60" x2="314.50" y2="670.10" stroke="#3a3a3a" stroke-width="1"/>
<line x1="475.10" y1="509.60" x2="475.10" y2="670.10" stroke="#3a3a3a" stroke-width="1"/>
<line x1="314.50" y1="669.60" x2="475.10" y2="669.60" stroke="#3a3a3a" stroke-width="1"/>
<line x1="314.50" y1="509.60" x2="475.10" y2="509.60" stroke="#3a3a3a" stroke-width="1"/>
<line x1="311.70" y1="525.75" x2="314.50" y2="525.75" stroke="#3a3a3a" stroke-width="1"/>
<text x="308.40" y="528.85" font-size="8.3" text-anchor="end" font-family='"Liberation Sans", Arial, sans-serif' letter-spacing="-0.25">0,4</text>
<line x1="311.70" y1="557.88" x2="314.50" y2="557.88" stroke="#3a3a3a" stroke-width="1"/>
<text x="308.40" y="560.98" font-size="8.3" text-anchor="end" font-family='"Liberation Sans", Arial, sans-serif' letter-spacing="-0.25">0,2</text>
<line x1="311.70" y1="590.00" x2="314.50" y2="590.00" stroke="#3a3a3a" stroke-width="1"/>
<text x="308.40" y="593.10" font-size="8.3" text-anchor="end" font-family='"Liberation Sans", Arial, sans-serif' letter-spacing="-0.25">0,0</text>
<line x1="311.70" y1="622.12" x2="314.50" y2="622.12" stroke="#3a3a3a" stroke-width="1"/>
<text x="308.40" y="625.23" font-size="8.3" text-anchor="end" font-family='"Liberation Sans", Arial, sans-serif' letter-spacing="-0.25">-0,2</text>
<line x1="311.70" y1="654.25" x2="314.50" y2="654.25" stroke="#3a3a3a" stroke-width="1"/>
<text x="308.40" y="657.35" font-size="8.3" text-anchor="end" font-family='"Liberation Sans", Arial, sans-serif' letter-spacing="-0.25">-0,4</text>
<line x1="475.10" y1="669.60" x2="477.90" y2="669.60" stroke="#3a3a3a" stroke-width="1"/>
<text x="481.20" y="672.70" font-size="8.3" text-anchor="start" font-family='"Liberation Sans", Arial, sans-serif' letter-spacing="-0.25">0,00</text>
<line x1="475.10" y1="648.27" x2="477.90" y2="648.27" stroke="#3a3a3a" stroke-width="1"/>
<text x="481.20" y="651.37" font-size="8.3" text-anchor="start" font-family='"Liberation Sans", Arial, sans-serif' letter-spacing="-0.25">0,02</text>
<line x1="475.10" y1="626.93" x2="477.90" y2="626.93" stroke="#3a3a3a" stroke-width="1"/>
<text x="481.20" y="630.03" font-size="8.3" text-anchor="start" font-family='"Liberation Sans", Arial, sans-serif' letter-spacing="-0.25">0,04</text>
<line x1="475.10" y1="605.60" x2="477.90" y2="605.60" stroke="#3a3a3a" stroke-width="1"/>
<text x="481.20" y="608.70" font-size="8.3" text-anchor="start" font-family='"Liberation Sans", Arial, sans-serif' letter-spacing="-0.25">0,06</text>
<line x1="475.10" y1="584.27" x2="477.90" y2="584.27" stroke="#3a3a3a" stroke-width="1"/>
<text x="481.20" y="587.37" font-size="8.3" text-anchor="start" font-family='"Liberation Sans", Arial, sans-serif' letter-spacing="-0.25">0,08</text>
<line x1="475.10" y1="562.93" x2="477.90" y2="562.93" stroke="#3a3a3a" stroke-width="1"/>
<text x="481.20" y="566.03" font-size="8.3" text-anchor="start" font-family='"Liberation Sans", Arial, sans-serif' letter-spacing="-0.25">0,10</text>
<line x1="475.10" y1="541.60" x2="477.90" y2="541.60" stroke="#3a3a3a" stroke-width="1"/>
<text x="481.20" y="544.70" font-size="8.3" text-anchor="start" font-family='"Liberation Sans", Arial, sans-serif' letter-spacing="-0.25">0,12</text>
<line x1="475.10" y1="520.27" x2="477.90" y2="520.27" stroke="#3a3a3a" stroke-width="1"/>
<text x="481.20" y="523.37" font-size="8.3" text-anchor="start" font-family='"Liberation Sans", Arial, sans-serif' letter-spacing="-0.25">0,14</text>
<line x1="354.50" y1="669.60" x2="354.50" y2="672.60" stroke="#3a3a3a" stroke-width="1"/>
<line x1="395.00" y1="669.60" x2="395.00" y2="672.60" stroke="#3a3a3a" stroke-width="1"/>
<line x1="435.00" y1="669.60" x2="435.00" y2="672.60" stroke="#3a3a3a" stroke-width="1"/>
<text x="343.00" y="688.85" font-size="9.5" text-anchor="start" font-family='"Liberation Sans", Arial, sans-serif'>Basal</text>
<text x="385.00" y="688.85" font-size="9.5" text-anchor="start" font-family='"Liberation Sans", Arial, sans-serif'>Step I</text>
<text x="428.00" y="688.85" font-size="9.5" text-anchor="start" font-family='"Liberation Sans", Arial, sans-serif'>Step II</text>
<text x="348.60" y="502.30" font-size="11.8" text-anchor="start" font-family='"Liberation Sans", Arial, sans-serif'><tspan font-family='"Liberation Serif", serif' font-size="12.2">B–</tspan>Hydroxybutyrate</text>
<text x="0.00" y="0.00" font-size="9.45" text-anchor="start" font-family='"Liberation Sans", Arial, sans-serif' transform="translate(285.00 650.60) rotate(-90) scale(1 1.12)">Leg balance <tspan font-size="8.5">(µmol/min/kg leg)</tspan></text>
<text x="0.00" y="0.00" font-size="9.26" text-anchor="start" font-family='"Liberation Sans", Arial, sans-serif' transform="translate(513.20 651.25) rotate(-90) scale(1 1.12)">Arterial concentration (mmol/l)</text>
<text x="98.30" y="20.00" font-size="16.9" text-anchor="start" font-family='"Liberation Sans", Arial, sans-serif'>Control</text>
<text x="332.30" y="20.00" font-size="17.0" text-anchor="start" font-family='"Liberation Sans", Arial, sans-serif'>Type 2 Diabetes</text>
<rect x="239.70" y="239.20" width="16.90" height="5.40" fill="#000"/>
<rect x="240.20" y="249.70" width="15.90" height="4.30" fill="#fff" stroke="#444" stroke-width="1"/>
<text transform="translate(260.3 244.5) scale(1 1.15)" font-size="7.5" font-family='"Liberation Sans", Arial, sans-serif'>UT</text>
<text transform="translate(260.8 254.5) scale(1 1.15)" font-size="7.5" font-family='"Liberation Sans", Arial, sans-serif'>T</text>
</svg>
</body></html>
